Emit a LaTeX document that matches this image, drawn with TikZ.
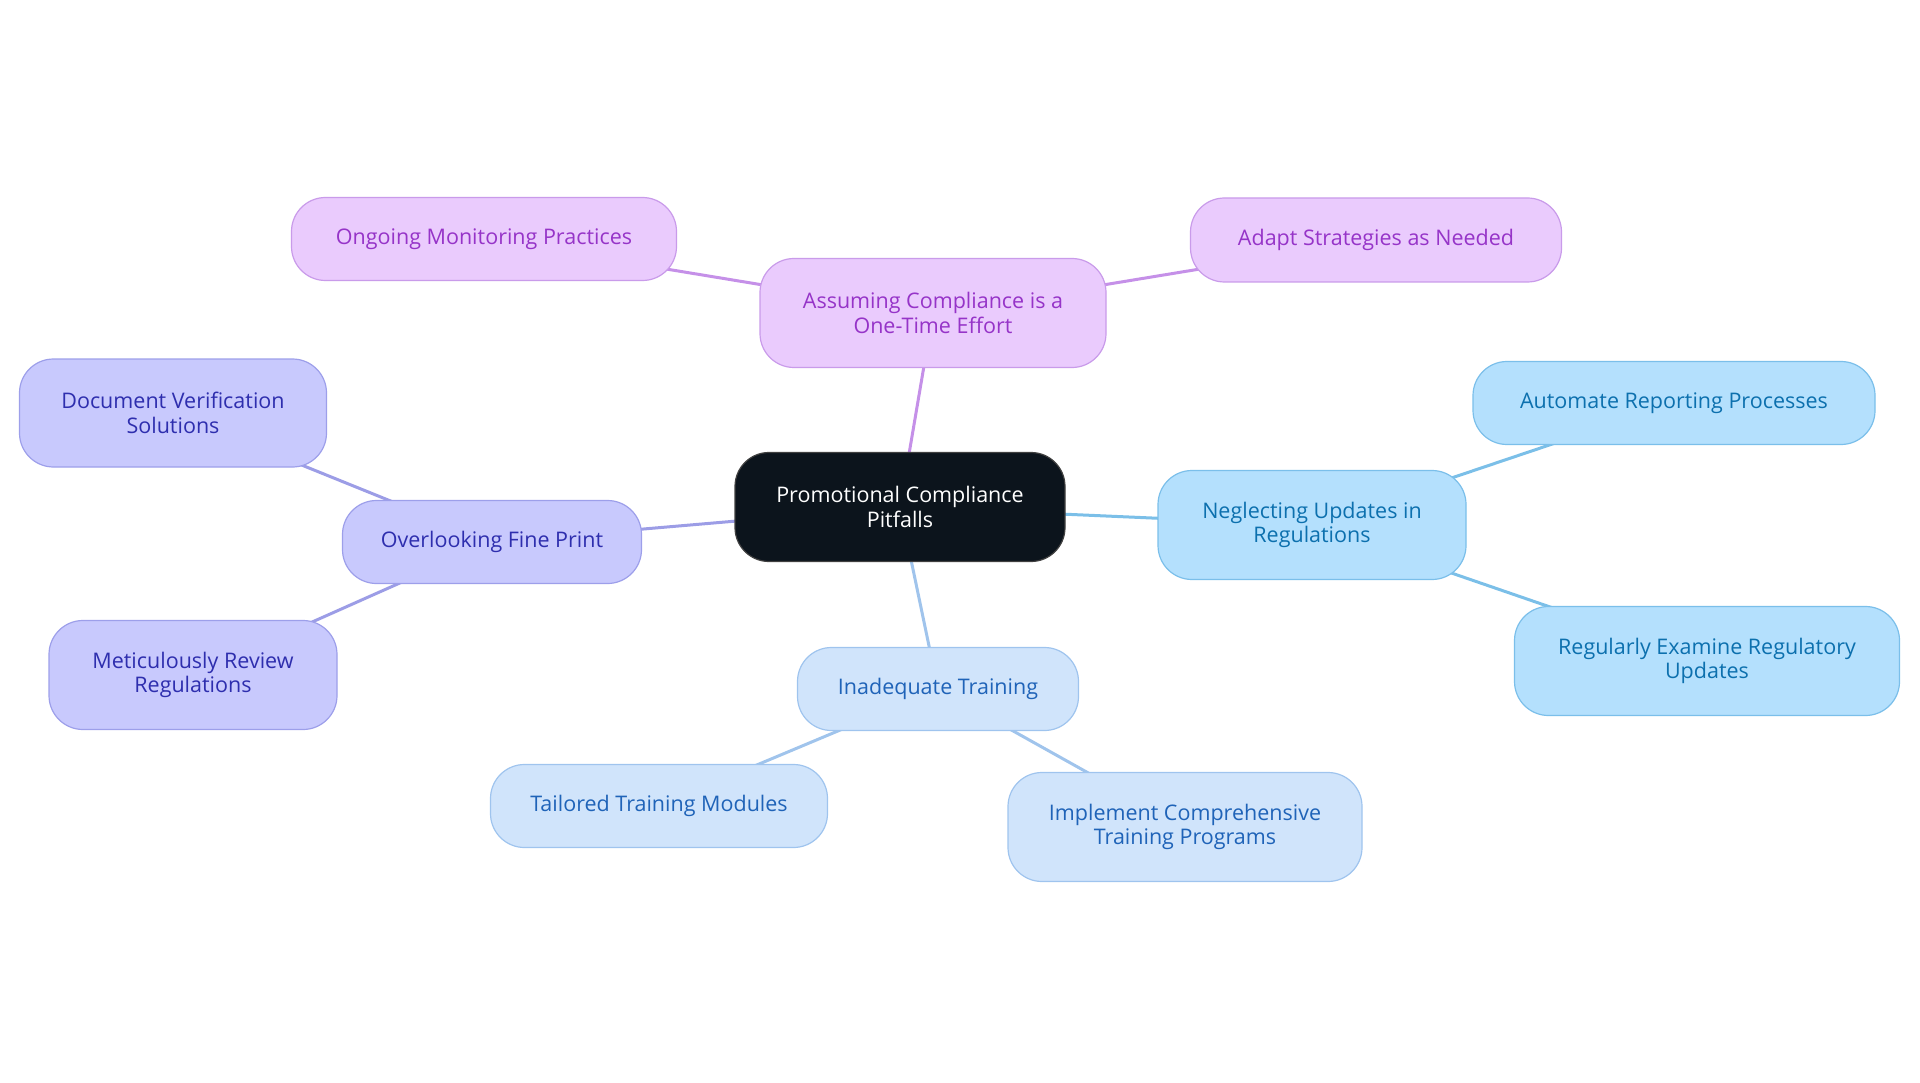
\documentclass[tikz,border=0pt]{standalone}
\usepackage{fontspec}
\setmainfont{Open Sans}
\usetikzlibrary{backgrounds}
\definecolor{cfill}{HTML}{0C141C}
\definecolor{pfill}{HTML}{EACBFD}\definecolor{pdraw}{HTML}{C99BEA}\definecolor{ptext}{HTML}{9634C8}\definecolor{pline}{HTML}{C590E8}
\definecolor{ifill}{HTML}{C8C9FD}\definecolor{idraw}{HTML}{9D9FEA}\definecolor{itext}{HTML}{2E2EAE}\definecolor{iline}{HTML}{9C9DE6}
\definecolor{sfill}{HTML}{B4E0FD}\definecolor{sdraw}{HTML}{7BBFEA}\definecolor{stext}{HTML}{0C70AE}\definecolor{sline}{HTML}{7BBFE8}
\definecolor{lfill}{HTML}{D0E4FB}\definecolor{ldraw}{HTML}{9FC4EE}\definecolor{ltext}{HTML}{1F63B8}\definecolor{lline}{HTML}{A0C4EC}
\begin{document}
\begin{tikzpicture}[x=1pt,y=-1pt,
  box/.style={rounded corners=34pt, line width=1.2pt, align=center, inner sep=0pt,
    font=\fontsize{21.5}{24.5}\selectfont},
  root/.style={box, fill=cfill, draw=black!75, text=white},
  pbox/.style={box, fill=pfill, draw=pdraw, text=ptext},
  ibox/.style={box, fill=ifill, draw=idraw, text=itext},
  sbox/.style={box, fill=sfill, draw=sdraw, text=stext},
  lbox/.style={box, fill=lfill, draw=ldraw, text=ltext},
  link/.style={line width=3pt}]
\useasboundingbox (0,0) rectangle (1920,1083);
\node[root, minimum width=330pt, minimum height=109pt] (c) at (900,507) {Promotional Compliance\\Pitfalls};
\node[pbox, minimum width=346pt, minimum height=109pt] (a) at (933,313) {Assuming Compliance is a\\One-Time Effort};
\node[pbox, minimum width=385pt, minimum height=83pt] (a1) at (484,239) {Ongoing Monitoring Practices};
\node[pbox, minimum width=371pt, minimum height=84pt] (a2) at (1376,240) {Adapt Strategies as Needed};
\node[ibox, minimum width=299pt, minimum height=83pt] (o) at (492,542) {Overlooking Fine Print};
\node[ibox, minimum width=307pt, minimum height=108pt] (o1) at (173,413) {Document Verification\\Solutions};
\node[ibox, minimum width=288pt, minimum height=109pt] (o2) at (193,675) {Meticulously Review\\Regulations};
\node[sbox, minimum width=308pt, minimum height=109pt] (n) at (1312,525) {Neglecting Updates in\\Regulations};
\node[sbox, minimum width=402pt, minimum height=83pt] (n1) at (1674,403) {Automate Reporting Processes};
\node[sbox, minimum width=385pt, minimum height=109pt] (n2) at (1707,661) {Regularly Examine Regulatory\\Updates};
\node[lbox, minimum width=281pt, minimum height=83pt] (t) at (938,689) {Inadequate Training};
\node[lbox, minimum width=337pt, minimum height=83pt] (t1) at (659,806) {Tailored Training Modules};
\node[lbox, minimum width=354pt, minimum height=109pt] (t2) at (1185,827) {Implement Comprehensive\\Training Programs};
\begin{scope}[on background layer]
\draw[link, pline] (c.center) -- (a.center);
\draw[link, pline] (a.center) -- (a1.center);
\draw[link, pline] (a.center) -- (a2.center);
\draw[link, iline] (c.center) -- (o.center);
\draw[link, iline] (o.center) -- (o1.center);
\draw[link, iline] (o.center) -- (o2.center);
\draw[link, sline] (c.center) -- (n.center);
\draw[link, sline] (n.center) -- (n1.center);
\draw[link, sline] (n.center) -- (n2.center);
\draw[link, lline] (c.center) -- (t.center);
\draw[link, lline] (t.center) -- (t1.center);
\draw[link, lline] (t.center) -- (t2.center);
\end{scope}
\end{tikzpicture}
\end{document}
